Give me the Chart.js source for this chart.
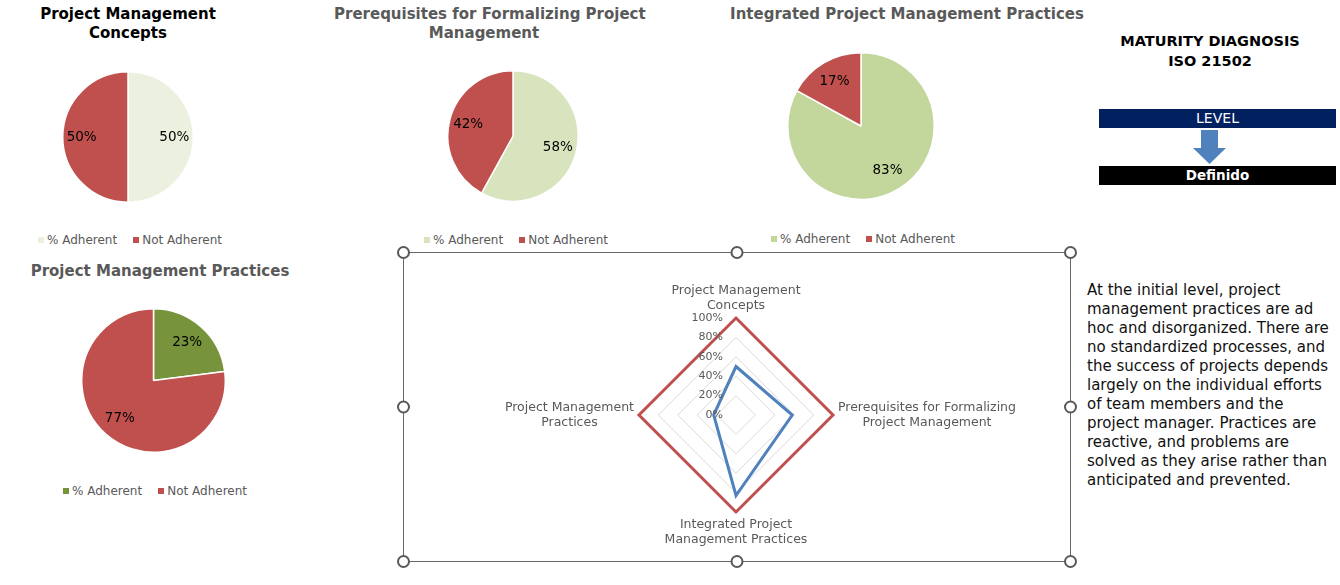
<!DOCTYPE html>
<html>
<head>
<meta charset="utf-8">
<script src="https://cdn.jsdelivr.net/npm/chart.js@4.4.1/dist/chart.umd.min.js"></script>
<style>
    html, body { margin: 0; padding: 0; background: #fff; }
    body { width: 1340px; height: 585px; position: relative; overflow: hidden; font-family: "DejaVu Sans", sans-serif; }
    .abs { position: absolute; }
    .title { font-weight: bold; font-size: 15px; line-height: 19px; text-align: center; white-space: nowrap; color: #595959; }
    .legend { display: flex; justify-content: center; align-items: center; font-size: 12px; color: #595959; white-space: nowrap; width: 300px; height: 16px; }
    .legend .sw { width: 6px; height: 6px; margin-right: 3px; display: inline-block; }
    .legend .item { display: flex; align-items: center; margin: 0 8px; }
    .bar { left: 1099px; width: 237px; height: 19px; color: #fff; text-align: center; line-height: 19px; }
    .para { left: 1087px; top: 281px; font-size: 15px; line-height: 19px; color: #111; white-space: nowrap; }
</style>
</head>
<body>

<div class="abs title" style="left:28px;width:200px;top:5px;color:#000">Project Management<br>Concepts</div>
<div class="abs title" style="left:334px;width:300px;top:5px">Prerequisites for Formalizing Project<br>Management</div>
<div class="abs title" style="left:707px;width:400px;top:5px">Integrated Project Management Practices</div>
<div class="abs title" style="left:10px;width:300px;top:262px">Project Management Practices</div>

<canvas id="pieConcepts" class="abs" width="132" height="132" style="left:62px;top:71px"></canvas>
<canvas id="piePrereq" class="abs" width="132" height="132" style="left:447px;top:70px"></canvas>
<canvas id="pieIntegrated" class="abs" width="148" height="148" style="left:787px;top:52px"></canvas>
<canvas id="piePractices" class="abs" width="145" height="145" style="left:81px;top:308px"></canvas>

<div id="legConcepts" class="abs legend" style="left:-20px;top:232px"></div>
<div id="legPrereq" class="abs legend" style="left:366px;top:232px"></div>
<div id="legIntegrated" class="abs legend" style="left:713px;top:231px"></div>
<div id="legPractices" class="abs legend" style="left:5px;top:483px"></div>

<svg class="abs" style="left:390px;top:239px" width="694" height="336">
    <rect x="13.5" y="13.5" width="667" height="309" fill="none" stroke="#666" stroke-width="1"/>
    <g fill="#fff" stroke="#595959" stroke-width="2">
        <circle cx="13.5" cy="13.5" r="5.5"/><circle cx="347" cy="13.5" r="5.5"/><circle cx="680.5" cy="13.5" r="5.5"/>
        <circle cx="13.5" cy="168" r="5.5"/><circle cx="680.5" cy="168" r="5.5"/>
        <circle cx="13.5" cy="322.5" r="5.5"/><circle cx="347" cy="322.5" r="5.5"/><circle cx="680.5" cy="322.5" r="5.5"/>
    </g>
</svg>
<canvas id="radar" class="abs" width="667" height="309" style="left:403px;top:252px"></canvas>

<div class="abs title" style="left:1060px;width:300px;top:31px;font-size:14.5px;line-height:20px;color:#000">MATURITY DIAGNOSIS<br>ISO 21502</div>
<div class="abs bar" style="top:109px;background:#002060;font-size:14px">LEVEL</div>
<svg class="abs" style="left:1193px;top:130px" width="34" height="35">
    <polygon points="8,0 25,0 25,18 33,18 16.5,34 0,18 8,18" fill="#4F81BD"/>
</svg>
<div class="abs bar" style="top:166px;background:#000;font-size:13.5px;font-weight:bold">Definido</div>

<div class="abs para">At the initial level, project<br>management practices are ad<br>hoc and disorganized. There are<br>no standardized processes, and<br>the success of projects depends<br>largely on the individual efforts<br>of team members and the<br>project manager. Practices are<br>reactive, and problems are<br>solved as they arise rather than<br>anticipated and prevented.</div>

<script>
const pieCategories = ["% Adherent", "Not Adherent"];
const conceptsValues = [50, 50];
const prerequisitesValues = [58, 42];
const integratedValues = [83, 17];
const practicesValues = [23, 77];

const radarLabels = [
    ["Project Management", "Concepts"],
    ["Prerequisites for Formalizing", "Project Management"],
    ["Integrated Project", "Management Practices"],
    ["Project Management", "Practices"]
];
const radarAdherent = [50, 58, 83, 23];
const radarTarget = [100, 100, 100, 100];
const radarTicks = [0, 20, 40, 60, 80, 100];

const notAdherentColor = "#C0504D";

Chart.defaults.font.family = "'DejaVu Sans', sans-serif";
Chart.defaults.animation = false;

// percentage labels inside the slices
const pieLabelPlugin = {
    id: "pieLabels",
    afterDatasetsDraw(chart) {
        const ctx = chart.ctx;
        const values = chart.data.datasets[0].data;
        ctx.save();
        ctx.font = "13.5px 'DejaVu Sans'";
        ctx.fillStyle = "#000";
        ctx.textAlign = "center";
        ctx.textBaseline = "middle";
        chart.getDatasetMeta(0).data.forEach((arc, i) => {
            const p = arc.getProps(["x", "y", "startAngle", "endAngle", "outerRadius"], true);
            const mid = (p.startAngle + p.endAngle) / 2;
            const r = p.outerRadius * 0.71;
            ctx.fillText(values[i] + "%", p.x + Math.cos(mid) * r, p.y + Math.sin(mid) * r);
        });
        ctx.restore();
    }
};

const makePie = (id, legendId, values, adherentColor) => {
    const colors = [adherentColor, notAdherentColor];
    new Chart(document.getElementById(id), {
        type: "pie",
        data: {
            labels: pieCategories,
            datasets: [{
                data: values,
                backgroundColor: colors,
                borderColor: "#fff",
                borderWidth: 1.5,
                hoverOffset: 0
            }]
        },
        options: {
            responsive: false,
            plugins: { legend: { display: false }, tooltip: { enabled: false } }
        },
        plugins: [pieLabelPlugin]
    });

    const leg = document.getElementById(legendId);
    leg.innerHTML = pieCategories
        .map((c, i) => `<span class="item"><span class="sw" style="background:${colors[i]}"></span>${c}</span>`)
        .join("");
};

makePie("pieConcepts", "legConcepts", conceptsValues, "#EBF1DE");
makePie("piePrereq", "legPrereq", prerequisitesValues, "#D7E4BD");
makePie("pieIntegrated", "legIntegrated", integratedValues, "#C3D69B");
makePie("piePractices", "legPractices", practicesValues, "#77933C");

// tick labels sit left of the vertical axis and point label lines are centred, like Excel does
const radarTextPlugin = {
    id: "radarText",
    afterDraw(chart) {
        const scale = chart.scales.r;
        const ctx = chart.ctx;
        ctx.save();
        ctx.fillStyle = "#595959";
        ctx.font = "11px 'DejaVu Sans'";
        ctx.textAlign = "right";
        ctx.textBaseline = "middle";
        scale.ticks.forEach(t => {
            ctx.fillText(t.value + "%", scale.xCenter - 13, scale.yCenter - scale.getDistanceFromCenterForValue(t.value));
        });

        ctx.font = "12.5px 'DejaVu Sans'";
        ctx.textAlign = "center";
        const lineH = 15;
        chart.data.labels.forEach((lines, i) => {
            const box = scale.getPointLabelPosition(i);
            const cx = (box.left + box.right) / 2;
            lines.forEach((line, j) => ctx.fillText(line, cx, box.top + lineH * (j + 0.5)));
        });
        ctx.restore();
    }
};

new Chart(document.getElementById("radar"), {
    type: "radar",
    data: {
        labels: radarLabels,
        datasets: [
            {
                label: "Target",
                data: radarTarget,
                borderColor: notAdherentColor,
                borderWidth: 3,
                fill: false,
                pointRadius: 0
            },
            {
                label: "% Adherent",
                data: radarAdherent,
                borderColor: "#4F81BD",
                borderWidth: 3,
                fill: false,
                pointRadius: 0
            }
        ]
    },
    options: {
        responsive: false,
        layout: { padding: { top: 31, bottom: 14, left: 0, right: 0 } },
        elements: { line: { tension: 0 } },
        scales: {
            r: {
                min: radarTicks[0],
                max: radarTicks[radarTicks.length - 1],
                ticks: { display: false, stepSize: radarTicks[1] - radarTicks[0] },
                grid: { color: "#D9D9D9", lineWidth: 1 },
                angleLines: { display: false },
                pointLabels: {
                    color: "rgba(0,0,0,0)",
                    font: { size: 12.5, lineHeight: 1.2 },
                    padding: 5
                }
            }
        },
        plugins: { legend: { display: false }, tooltip: { enabled: false } }
    },
    plugins: [radarTextPlugin]
});
</script>
</body>
</html>
